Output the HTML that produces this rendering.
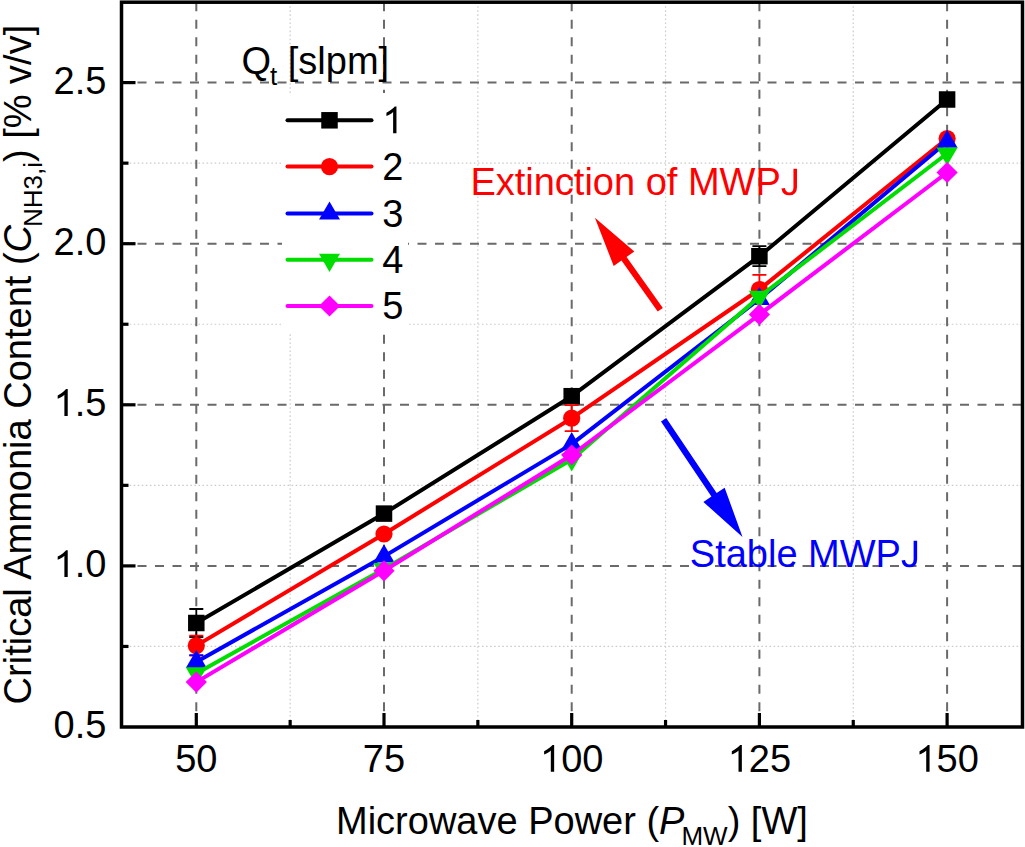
<!DOCTYPE html>
<html><head><meta charset="utf-8"><style>
html,body{margin:0;padding:0;background:#fff;}
svg{display:block;}
text{font-family:"Liberation Sans",sans-serif;fill:#000;}
.tl{font-size:38px;}
.mg{stroke:#cccccc;stroke-width:1.2;stroke-dasharray:1.6 2.45;}
.Mg{stroke:#6a6a6a;stroke-width:2;stroke-dasharray:9 8.5;}
.Mgh{stroke:#6a6a6a;stroke-width:2;stroke-dasharray:9 8.5;stroke-dashoffset:-16;}
.tk{stroke:#000;stroke-width:3.2;}
</style></head><body>
<svg width="1025" height="847" viewBox="0 0 1025 847">
<rect width="1025" height="847" fill="#fff"/>
<line x1="290.15" y1="2.2" x2="290.15" y2="727.0" class="mg"/>
<line x1="477.85" y1="2.2" x2="477.85" y2="727.0" class="mg"/>
<line x1="665.55" y1="2.2" x2="665.55" y2="727.0" class="mg"/>
<line x1="853.25" y1="2.2" x2="853.25" y2="727.0" class="mg"/>
<line x1="121.5" y1="646.45" x2="1022.5" y2="646.45" class="mg"/>
<line x1="121.5" y1="485.35" x2="1022.5" y2="485.35" class="mg"/>
<line x1="121.5" y1="324.25" x2="1022.5" y2="324.25" class="mg"/>
<line x1="121.5" y1="163.15" x2="1022.5" y2="163.15" class="mg"/>
<line x1="196.30" y1="2.2" x2="196.30" y2="727.0" class="Mg"/>
<line x1="384.00" y1="2.2" x2="384.00" y2="727.0" class="Mg"/>
<line x1="571.70" y1="2.2" x2="571.70" y2="727.0" class="Mg"/>
<line x1="759.40" y1="2.2" x2="759.40" y2="727.0" class="Mg"/>
<line x1="947.10" y1="2.2" x2="947.10" y2="727.0" class="Mg"/>
<line x1="121.5" y1="565.90" x2="1022.5" y2="565.90" class="Mgh"/>
<line x1="121.5" y1="404.80" x2="1022.5" y2="404.80" class="Mgh"/>
<line x1="121.5" y1="243.70" x2="1022.5" y2="243.70" class="Mgh"/>
<line x1="121.5" y1="82.60" x2="1022.5" y2="82.60" class="Mgh"/>
<rect x="282" y="93" width="126" height="240" fill="#fff"/>
<line x1="287.5" y1="120.3" x2="371.5" y2="120.3" stroke="#000000" stroke-width="4" stroke-linecap="round"/>
<rect x="321.25" y="112.05" width="16.5" height="16.5" fill="#000000"/>
<text x="382.30" y="133.30" class="tl"> </text>
<path d="M763,0L583,0L583,1147Q518,1085 421,1028Q324,971 222,933L222,1107Q390,1186 509,1292Q628,1398 674,1450L763,1450Z" transform="translate(382.30,133.30) scale(0.018555,-0.018555)"/>
<line x1="287.5" y1="166.6" x2="371.5" y2="166.6" stroke="#ff0000" stroke-width="4" stroke-linecap="round"/>
<circle cx="329.50" cy="166.60" r="8.6" fill="#ff0000"/>
<text x="382.30" y="179.60" class="tl">2</text>
<line x1="287.5" y1="213.5" x2="371.5" y2="213.5" stroke="#0000ff" stroke-width="4" stroke-linecap="round"/>
<polygon points="329.50,201.38 340.00,219.56 319.00,219.56" fill="#0000ff"/>
<text x="382.30" y="226.50" class="tl">3</text>
<line x1="287.5" y1="259.8" x2="371.5" y2="259.8" stroke="#00dd00" stroke-width="4" stroke-linecap="round"/>
<polygon points="329.50,271.92 340.00,253.74 319.00,253.74" fill="#00dd00"/>
<text x="382.30" y="272.80" class="tl">4</text>
<line x1="287.5" y1="306.0" x2="371.5" y2="306.0" stroke="#ff00ff" stroke-width="4" stroke-linecap="round"/>
<polygon points="329.50,295.40 340.10,306.00 329.50,316.60 318.90,306.00" fill="#ff00ff"/>
<text x="382.30" y="319.00" class="tl">5</text>
<text x="241.4" y="74" class="tl">Q<tspan font-size="26" dy="10.5" dx="-1">t</tspan><tspan dy="-10.5"> [slpm]</tspan></text>
<polyline points="196.30,623.00 384.00,513.60 571.70,396.20 759.40,256.20 947.10,99.50" fill="none" stroke="#000000" stroke-width="4" stroke-linejoin="round"/>
<path d="M196.30 609.00V637.00M189.30 609.00H203.30M189.30 637.00H203.30" stroke="#000000" stroke-width="1.8" fill="none"/>
<path d="M759.40 246.20V266.20M752.40 246.20H766.40M752.40 266.20H766.40" stroke="#000000" stroke-width="1.8" fill="none"/>
<rect x="188.05" y="614.75" width="16.5" height="16.5" fill="#000000"/>
<rect x="375.75" y="505.35" width="16.5" height="16.5" fill="#000000"/>
<rect x="563.45" y="387.95" width="16.5" height="16.5" fill="#000000"/>
<rect x="751.15" y="247.95" width="16.5" height="16.5" fill="#000000"/>
<rect x="938.85" y="91.25" width="16.5" height="16.5" fill="#000000"/>
<polyline points="196.30,645.60 384.00,534.00 571.70,418.20 759.40,289.50 947.10,138.50" fill="none" stroke="#ff0000" stroke-width="4" stroke-linejoin="round"/>
<path d="M196.30 635.60V655.60M189.30 635.60H203.30M189.30 655.60H203.30" stroke="#ff0000" stroke-width="1.8" fill="none"/>
<path d="M571.70 405.20V431.20M564.70 405.20H578.70M564.70 431.20H578.70" stroke="#ff0000" stroke-width="1.8" fill="none"/>
<path d="M759.40 274.90V304.10M752.40 274.90H766.40M752.40 304.10H766.40" stroke="#ff0000" stroke-width="1.8" fill="none"/>
<circle cx="196.30" cy="645.60" r="8.6" fill="#ff0000"/>
<circle cx="384.00" cy="534.00" r="8.6" fill="#ff0000"/>
<circle cx="571.70" cy="418.20" r="8.6" fill="#ff0000"/>
<circle cx="759.40" cy="289.50" r="8.6" fill="#ff0000"/>
<circle cx="947.10" cy="138.50" r="8.6" fill="#ff0000"/>
<polyline points="196.30,662.00 384.00,556.40 571.70,444.10 759.40,299.00 947.10,141.80" fill="none" stroke="#0000ff" stroke-width="4" stroke-linejoin="round"/>
<path d="M196.30 655.20V668.80M189.30 655.20H203.30M189.30 668.80H203.30" stroke="#0000ff" stroke-width="1.8" fill="none"/>
<polygon points="196.30,649.88 206.80,668.06 185.80,668.06" fill="#0000ff"/>
<polygon points="384.00,544.28 394.50,562.46 373.50,562.46" fill="#0000ff"/>
<polygon points="571.70,431.98 582.20,450.16 561.20,450.16" fill="#0000ff"/>
<polygon points="759.40,286.88 769.90,305.06 748.90,305.06" fill="#0000ff"/>
<polygon points="947.10,129.68 957.60,147.86 936.60,147.86" fill="#0000ff"/>
<polyline points="196.30,673.40 384.00,569.00 571.70,459.50 759.40,296.80 947.10,153.50" fill="none" stroke="#00dd00" stroke-width="4" stroke-linejoin="round"/>
<polygon points="196.30,685.52 206.80,667.34 185.80,667.34" fill="#00dd00"/>
<polygon points="384.00,581.12 394.50,562.94 373.50,562.94" fill="#00dd00"/>
<polygon points="571.70,471.62 582.20,453.44 561.20,453.44" fill="#00dd00"/>
<polygon points="759.40,308.92 769.90,290.74 748.90,290.74" fill="#00dd00"/>
<polygon points="947.10,165.62 957.60,147.44 936.60,147.44" fill="#00dd00"/>
<polyline points="196.30,682.10 384.00,570.80 571.70,455.00 759.40,314.60 947.10,172.50" fill="none" stroke="#ff00ff" stroke-width="4" stroke-linejoin="round"/>
<polygon points="196.30,671.50 206.90,682.10 196.30,692.70 185.70,682.10" fill="#ff00ff"/>
<polygon points="384.00,560.20 394.60,570.80 384.00,581.40 373.40,570.80" fill="#ff00ff"/>
<polygon points="571.70,444.40 582.30,455.00 571.70,465.60 561.10,455.00" fill="#ff00ff"/>
<polygon points="759.40,304.00 770.00,314.60 759.40,325.20 748.80,314.60" fill="#ff00ff"/>
<polygon points="947.10,161.90 957.70,172.50 947.10,183.10 936.50,172.50" fill="#ff00ff"/>
<rect x="121.5" y="2.2" width="901.0" height="724.8" fill="none" stroke="#000" stroke-width="3.5"/>
<line x1="196.30" y1="727.0" x2="196.30" y2="713.0" class="tk"/>
<line x1="384.00" y1="727.0" x2="384.00" y2="713.0" class="tk"/>
<line x1="571.70" y1="727.0" x2="571.70" y2="713.0" class="tk"/>
<line x1="759.40" y1="727.0" x2="759.40" y2="713.0" class="tk"/>
<line x1="947.10" y1="727.0" x2="947.10" y2="713.0" class="tk"/>
<line x1="290.15" y1="727.0" x2="290.15" y2="720.0" class="tk"/>
<line x1="477.85" y1="727.0" x2="477.85" y2="720.0" class="tk"/>
<line x1="665.55" y1="727.0" x2="665.55" y2="720.0" class="tk"/>
<line x1="853.25" y1="727.0" x2="853.25" y2="720.0" class="tk"/>
<line x1="121.5" y1="565.90" x2="135.5" y2="565.90" class="tk"/>
<line x1="121.5" y1="404.80" x2="135.5" y2="404.80" class="tk"/>
<line x1="121.5" y1="243.70" x2="135.5" y2="243.70" class="tk"/>
<line x1="121.5" y1="82.60" x2="135.5" y2="82.60" class="tk"/>
<line x1="121.5" y1="646.45" x2="128.5" y2="646.45" class="tk"/>
<line x1="121.5" y1="485.35" x2="128.5" y2="485.35" class="tk"/>
<line x1="121.5" y1="324.25" x2="128.5" y2="324.25" class="tk"/>
<line x1="121.5" y1="163.15" x2="128.5" y2="163.15" class="tk"/>
<text x="175.17" y="771.80" class="tl">50</text>
<text x="362.87" y="771.80" class="tl">75</text>
<text x="540.00" y="771.80" class="tl"> 00</text>
<path d="M763,0L583,0L583,1147Q518,1085 421,1028Q324,971 222,933L222,1107Q390,1186 509,1292Q628,1398 674,1450L763,1450Z" transform="translate(540.00,771.80) scale(0.018555,-0.018555)"/>
<text x="727.70" y="771.80" class="tl"> 25</text>
<path d="M763,0L583,0L583,1147Q518,1085 421,1028Q324,971 222,933L222,1107Q390,1186 509,1292Q628,1398 674,1450L763,1450Z" transform="translate(727.70,771.80) scale(0.018555,-0.018555)"/>
<text x="915.40" y="771.80" class="tl"> 50</text>
<path d="M763,0L583,0L583,1147Q518,1085 421,1028Q324,971 222,933L222,1107Q390,1186 509,1292Q628,1398 674,1450L763,1450Z" transform="translate(915.40,771.80) scale(0.018555,-0.018555)"/>
<text x="53.57" y="738.20" class="tl">0.5</text>
<text x="53.57" y="577.10" class="tl"> .0</text>
<path d="M763,0L583,0L583,1147Q518,1085 421,1028Q324,971 222,933L222,1107Q390,1186 509,1292Q628,1398 674,1450L763,1450Z" transform="translate(53.57,577.10) scale(0.018555,-0.018555)"/>
<text x="53.57" y="416.00" class="tl"> .5</text>
<path d="M763,0L583,0L583,1147Q518,1085 421,1028Q324,971 222,933L222,1107Q390,1186 509,1292Q628,1398 674,1450L763,1450Z" transform="translate(53.57,416.00) scale(0.018555,-0.018555)"/>
<text x="53.57" y="254.90" class="tl">2.0</text>
<text x="53.57" y="93.80" class="tl">2.5</text>
<text id="ext" x="470.4" y="195" class="tl" style="fill:#ff0000">Extinction of MWP </text><path d="M457,-20Q99,-20 32,350L219,381Q237,265 300,200Q363,135 458,135Q562,135 622,206.5Q682,278 682,416L682,1409L872,1409L872,420Q872,215 761,97.5Q650,-20 457,-20Z" fill="#ff0000" transform="translate(780.81,195) scale(0.018555,-0.018555)"/>
<text id="stb" x="689.8" y="567" class="tl" style="fill:#0000ff">Stable MWP </text><path d="M457,-20Q99,-20 32,350L219,381Q237,265 300,200Q363,135 458,135Q562,135 622,206.5Q682,278 682,416L682,1409L872,1409L872,420Q872,215 761,97.5Q650,-20 457,-20Z" fill="#0000ff" transform="translate(900.96,567) scale(0.018555,-0.018555)"/>
<polygon points="594.90,217.70 613.71,266.04 621.45,260.54 657.73,311.62 662.87,307.98 626.59,256.89 634.34,251.39" fill="#ff0000"/>
<polygon points="742.50,537.10 724.66,487.64 716.65,493.02 666.21,418.04 660.99,421.56 711.42,496.54 703.41,501.93" fill="#0000ff"/>
<text transform="translate(31,704.4) rotate(-90)" class="tl">Critical Ammonia Content (<tspan font-style="italic">C</tspan><tspan font-size="26" dy="10.5" dx="-2">NH3,i</tspan><tspan dy="-10.5">) [% v/v]</tspan></text>
<text x="336" y="834.1" class="tl">Microwave Power (<tspan font-style="italic">P</tspan><tspan font-size="26" dy="10.5" dx="-3">MW</tspan><tspan dy="-10.5">) [W]</tspan></text>
</svg>
</body></html>
